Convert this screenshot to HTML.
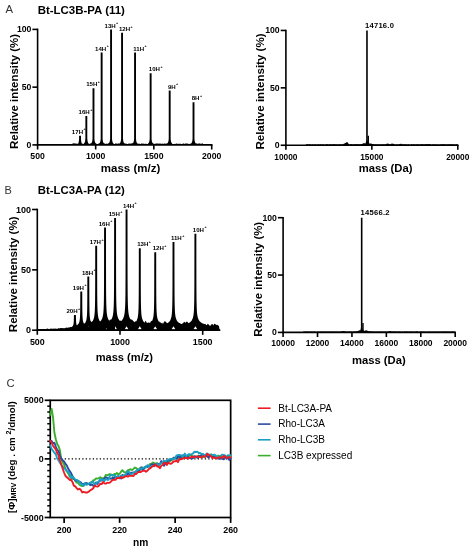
<!DOCTYPE html>
<html><head><meta charset="utf-8"><title>Figure</title>
<style>html,body{margin:0;padding:0;background:#fff}svg{display:block}</style></head>
<body>
<svg width="471" height="550" viewBox="0 0 471 550" font-family='"Liberation Sans", sans-serif' fill="#000">
<rect width="471" height="550" fill="#fff"/>
<text x="5.60" y="12.70" font-size="11.3" font-weight="normal" text-anchor="start" fill="#333">A</text>
<text x="37.70" y="13.60" font-size="11.1" font-weight="bold" text-anchor="start" textLength="87.2" lengthAdjust="spacingAndGlyphs">Bt-LC3B-PA (11)</text>
<line x1="37.60" y1="28.60" x2="37.60" y2="145.70" stroke="#000" stroke-width="1.6" />
<line x1="36.80" y1="144.90" x2="212.50" y2="144.90" stroke="#000" stroke-width="1.6" />
<line x1="32.40" y1="29.40" x2="37.60" y2="29.40" stroke="#000" stroke-width="1.6" />
<text x="31.40" y="32.40" font-size="8.7" font-weight="bold" text-anchor="end" >100</text>
<line x1="32.40" y1="87.15" x2="37.60" y2="87.15" stroke="#000" stroke-width="1.6" />
<text x="31.40" y="90.15" font-size="8.7" font-weight="bold" text-anchor="end" >50</text>
<line x1="32.40" y1="144.90" x2="37.60" y2="144.90" stroke="#000" stroke-width="1.6" />
<text x="31.40" y="147.90" font-size="8.7" font-weight="bold" text-anchor="end" >0</text>
<line x1="37.60" y1="144.90" x2="37.60" y2="149.50" stroke="#000" stroke-width="1.6" />
<text x="37.60" y="159.30" font-size="8.7" font-weight="bold" text-anchor="middle" >500</text>
<line x1="95.67" y1="144.90" x2="95.67" y2="149.50" stroke="#000" stroke-width="1.6" />
<text x="95.67" y="159.30" font-size="8.7" font-weight="bold" text-anchor="middle" >1000</text>
<line x1="153.83" y1="144.90" x2="153.83" y2="149.50" stroke="#000" stroke-width="1.6" />
<text x="153.83" y="159.30" font-size="8.7" font-weight="bold" text-anchor="middle" >1500</text>
<line x1="211.70" y1="144.90" x2="211.70" y2="149.50" stroke="#000" stroke-width="1.6" />
<text x="211.70" y="159.30" font-size="8.7" font-weight="bold" text-anchor="middle" >2000</text>
<text x="130.50" y="171.70" font-size="11.5" font-weight="bold" text-anchor="middle" >mass (m/z)</text>
<text x="0.00" y="0.00" font-size="11.45" font-weight="bold" text-anchor="middle" transform="translate(17.90,91.45) rotate(-90)">Relative intensity (%)</text>
<path d="M188.88,144.90 C191.36,144.30 192.36,142.62 192.56,138.40 L192.56,102.17 L194.46,102.17 L194.46,138.40 C194.66,142.62 195.66,144.30 198.15,144.90 Z" fill="#000"/>
<text x="191.71" y="100.27" font-size="6.1" font-weight="bold" text-anchor="start">8H<tspan font-size="3.66" dy="-3.3" dx="0.4">+</tspan></text>
<path d="M164.69,144.90 C167.54,144.30 168.54,142.62 168.74,138.40 L168.74,90.62 L170.64,90.62 L170.64,138.40 C170.84,142.62 171.84,144.30 174.69,144.90 Z" fill="#000"/>
<text x="167.89" y="88.72" font-size="6.1" font-weight="bold" text-anchor="start">9H<tspan font-size="3.66" dy="-3.3" dx="0.4">+</tspan></text>
<path d="M145.64,144.90 C148.49,144.30 149.49,142.62 149.69,138.40 L149.69,73.29 L151.59,73.29 L151.59,138.40 C151.79,142.62 152.79,144.30 155.64,144.90 Z" fill="#000"/>
<text x="148.84" y="71.39" font-size="6.1" font-weight="bold" text-anchor="start">10H<tspan font-size="3.66" dy="-3.3" dx="0.4">+</tspan></text>
<path d="M130.05,144.90 C132.90,144.30 133.90,142.62 134.10,138.40 L134.10,52.50 L136.00,52.50 L136.00,138.40 C136.20,142.62 137.20,144.30 140.05,144.90 Z" fill="#000"/>
<text x="133.25" y="50.60" font-size="6.1" font-weight="bold" text-anchor="start">11H<tspan font-size="3.66" dy="-3.3" dx="0.4">+</tspan></text>
<path d="M117.06,144.90 C119.91,144.30 120.91,142.62 121.11,138.40 L121.11,32.87 L123.01,32.87 L123.01,138.40 C123.21,142.62 124.21,144.30 127.06,144.90 Z" fill="#000"/>
<text x="118.96" y="30.97" font-size="6.1" font-weight="bold" text-anchor="start">12H<tspan font-size="3.66" dy="-3.3" dx="0.4">+</tspan></text>
<path d="M106.07,144.90 C108.92,144.30 109.92,142.62 110.12,138.40 L110.12,29.40 L112.02,29.40 L112.02,138.40 C112.22,142.62 113.22,144.30 116.07,144.90 Z" fill="#000"/>
<text x="111.37" y="27.50" font-size="6.1" font-weight="bold" text-anchor="middle">13H<tspan font-size="3.66" dy="-3.3" dx="0.4">+</tspan></text>
<path d="M96.64,144.90 C99.49,144.30 100.49,142.62 100.69,138.40 L100.69,52.50 L102.59,52.50 L102.59,138.40 C102.79,142.62 103.79,144.30 106.64,144.90 Z" fill="#000"/>
<text x="101.94" y="50.60" font-size="6.1" font-weight="bold" text-anchor="middle">14H<tspan font-size="3.66" dy="-3.3" dx="0.4">+</tspan></text>
<path d="M88.48,144.90 C91.33,144.30 92.33,142.62 92.53,138.40 L92.53,88.31 L94.43,88.31 L94.43,138.40 C94.63,142.62 95.63,144.30 98.48,144.90 Z" fill="#000"/>
<text x="93.08" y="86.41" font-size="6.1" font-weight="bold" text-anchor="middle">15H<tspan font-size="3.66" dy="-3.3" dx="0.4">+</tspan></text>
<path d="M82.47,144.90 C84.18,144.30 85.18,142.62 85.38,138.40 L85.38,116.03 L87.28,116.03 L87.28,138.40 C87.48,142.62 88.48,144.30 90.19,144.90 Z" fill="#000"/>
<text x="85.43" y="114.12" font-size="6.1" font-weight="bold" text-anchor="middle">16H<tspan font-size="3.66" dy="-3.3" dx="0.4">+</tspan></text>
<path d="M77.61,144.90 C77.88,144.30 78.88,142.96 79.08,139.36 L79.08,135.66 L80.98,135.66 L80.98,139.36 C81.18,142.96 82.18,144.30 82.45,144.90 Z" fill="#000"/>
<text x="78.73" y="133.76" font-size="6.1" font-weight="bold" text-anchor="middle">17H<tspan font-size="3.66" dy="-3.3" dx="0.4">+</tspan></text>
<path d="M73.52,144.90 C72.47,144.30 73.47,144.48 73.67,143.70 L73.67,142.90 L74.47,142.90 L74.47,143.70 C74.67,144.48 75.67,144.30 74.63,144.90 Z" fill="#000"/>
<path d="M72.00,144.90 L72.00,143.90 L72.70,143.52 L73.40,143.56 L74.10,143.68 L74.80,143.86 L75.50,143.45 L76.20,143.44 L76.90,143.65 L77.60,143.66 L78.30,143.85 L79.00,144.02 L79.70,143.75 L80.40,143.60 L81.10,143.97 L81.80,143.45 L82.50,143.85 L83.20,143.85 L83.90,143.99 L84.60,143.30 L85.30,143.49 L86.00,143.39 L86.70,143.58 L87.40,144.00 L88.10,143.78 L88.80,143.66 L89.50,143.94 L90.20,143.33 L90.90,143.75 L91.60,143.91 L92.30,143.43 L93.00,143.93 L93.70,143.35 L94.40,143.69 L95.10,143.62 L95.80,143.77 L96.50,143.67 L97.20,143.89 L97.90,143.99 L98.60,143.40 L99.30,143.85 L100.00,143.46 L100.70,143.87 L101.40,143.32 L102.10,143.38 L102.80,143.48 L103.50,143.47 L104.20,143.60 L104.90,143.49 L105.60,143.93 L106.30,143.68 L107.00,143.42 L107.70,143.88 L108.40,143.36 L109.10,143.38 L109.80,143.73 L110.50,143.76 L111.20,143.70 L111.90,143.74 L112.60,143.30 L113.30,143.74 L114.00,144.00 L114.70,143.95 L115.40,143.50 L116.10,143.31 L116.80,143.66 L117.50,143.67 L118.20,143.62 L118.90,143.48 L119.60,143.86 L120.30,143.58 L121.00,143.62 L121.70,143.57 L122.40,143.89 L123.10,143.90 L123.80,143.77 L124.50,143.35 L125.20,143.77 L125.90,143.59 L126.60,143.80 L127.30,143.95 L128.00,143.97 L128.70,143.43 L129.40,143.46 L130.10,143.75 L130.80,143.53 L131.50,143.53 L132.20,143.37 L132.90,143.33 L133.60,143.73 L134.30,143.31 L135.00,143.33 L135.70,143.59 L136.40,143.38 L137.10,143.67 L137.80,143.75 L138.50,143.84 L139.20,143.39 L139.90,143.90 L140.60,143.97 L141.30,143.44 L142.00,143.46 L142.70,143.67 L143.40,143.42 L144.10,143.98 L144.80,143.83 L145.50,143.81 L146.20,143.72 L146.90,143.90 L147.60,143.97 L148.30,143.78 L149.00,143.37 L149.70,143.31 L150.40,143.48 L151.10,143.68 L151.80,143.84 L152.50,143.33 L153.20,143.64 L153.90,143.50 L154.60,144.00 L155.30,143.87 L156.00,143.42 L156.70,143.45 L157.40,143.39 L158.10,143.59 L158.80,143.71 L159.50,143.60 L160.20,143.41 L160.90,143.80 L161.60,143.64 L162.30,143.82 L163.00,143.47 L163.70,144.01 L164.40,143.53 L165.10,143.33 L165.80,144.00 L166.50,143.59 L167.20,143.56 L167.90,143.41 L168.60,143.60 L169.30,143.83 L170.00,143.73 L170.70,143.33 L171.40,143.37 L172.10,143.92 L172.80,143.95 L173.50,143.95 L174.20,144.00 L174.90,143.70 L175.60,143.92 L176.30,143.40 L177.00,143.55 L177.70,143.93 L178.40,143.63 L179.10,143.79 L179.80,143.66 L180.50,143.86 L181.20,143.90 L181.90,143.89 L182.60,143.75 L183.30,143.51 L184.00,143.62 L184.70,143.99 L185.40,143.51 L186.10,143.39 L186.80,143.46 L187.50,143.45 L188.20,144.01 L188.90,143.69 L189.60,143.97 L190.30,143.47 L191.00,143.89 L191.70,143.51 L192.40,143.84 L193.10,143.52 L193.80,143.79 L194.50,143.99 L195.20,143.74 L195.90,143.80 L196.60,143.37 L197.30,143.81 L198.00,143.66 L198.70,143.62 L199.40,143.34 L200.10,143.95 L200.80,143.59 L201.50,143.65 L202.20,143.49 L202.90,143.32 L203.00,144.90 Z" fill="#000"/>
<line x1="285.90" y1="29.65" x2="285.90" y2="146.05" stroke="#000" stroke-width="1.6" />
<line x1="285.10" y1="145.25" x2="458.60" y2="145.25" stroke="#000" stroke-width="1.6" />
<line x1="280.70" y1="30.45" x2="285.90" y2="30.45" stroke="#000" stroke-width="1.6" />
<text x="279.70" y="33.45" font-size="8.7" font-weight="bold" text-anchor="end" >100</text>
<line x1="280.70" y1="87.85" x2="285.90" y2="87.85" stroke="#000" stroke-width="1.6" />
<text x="279.70" y="90.85" font-size="8.7" font-weight="bold" text-anchor="end" >50</text>
<line x1="280.70" y1="145.25" x2="285.90" y2="145.25" stroke="#000" stroke-width="1.6" />
<text x="279.70" y="148.25" font-size="8.7" font-weight="bold" text-anchor="end" >0</text>
<line x1="285.90" y1="145.25" x2="285.90" y2="149.85" stroke="#000" stroke-width="1.6" />
<text x="285.90" y="160.05" font-size="8.35" font-weight="bold" text-anchor="middle" >10000</text>
<line x1="371.85" y1="145.25" x2="371.85" y2="149.85" stroke="#000" stroke-width="1.6" />
<text x="371.85" y="160.05" font-size="8.35" font-weight="bold" text-anchor="middle" >15000</text>
<line x1="457.80" y1="145.25" x2="457.80" y2="149.85" stroke="#000" stroke-width="1.6" />
<text x="457.80" y="160.05" font-size="8.35" font-weight="bold" text-anchor="middle" >20000</text>
<text x="385.60" y="171.95" font-size="11.25" font-weight="bold" text-anchor="middle" >mass (Da)</text>
<text x="0.00" y="0.00" font-size="11.55" font-weight="bold" text-anchor="middle" transform="translate(264.10,91.55) rotate(-90)">Relative intensity (%)</text>
<path d="M363.97,145.25 C364.97,144.65 365.97,143.50 366.17,140.25 L366.17,30.45 L367.77,30.45 L367.77,140.25 C367.97,143.50 368.97,144.65 369.97,145.25 Z" fill="#000"/>
<path d="M367.09,145.25 C366.37,144.65 367.37,144.20 367.57,142.25 L367.57,135.75 L368.97,135.75 L368.97,142.25 C369.17,144.20 370.17,144.65 369.45,145.25 Z" fill="#000"/>
<path d="M305.90,145.25 L305.90,144.30 L306.60,144.23 L307.30,144.11 L308.00,144.39 L308.70,144.28 L309.40,144.35 L310.10,144.12 L310.80,144.43 L311.50,144.42 L312.20,144.39 L312.90,144.11 L313.60,144.42 L314.30,144.43 L315.00,144.25 L315.70,144.19 L316.40,144.45 L317.10,144.40 L317.80,144.13 L318.50,144.25 L319.20,144.41 L319.90,144.29 L320.60,144.19 L321.30,144.31 L322.00,144.43 L322.70,144.30 L323.40,144.21 L324.10,144.39 L324.80,144.39 L325.50,144.41 L326.20,144.30 L326.90,144.11 L327.60,144.35 L328.30,144.41 L329.00,144.21 L329.70,144.36 L330.40,144.13 L331.10,144.32 L331.80,144.20 L332.50,144.27 L333.20,144.26 L333.90,144.34 L334.60,144.12 L335.30,144.23 L336.00,144.39 L336.70,144.24 L337.40,144.21 L338.10,144.41 L338.80,144.13 L339.50,144.33 L340.20,144.27 L340.90,144.23 L341.60,144.13 L342.30,144.34 L343.00,144.20 L343.70,143.87 L344.40,143.49 L345.10,143.22 L345.80,142.83 L346.50,142.36 L347.20,142.04 L347.90,143.02 L348.60,143.76 L349.30,144.38 L350.00,144.21 L350.70,144.11 L351.40,144.32 L352.10,144.10 L352.80,144.40 L353.50,144.27 L354.20,144.35 L354.90,144.19 L355.60,144.11 L356.30,144.24 L357.00,144.30 L357.70,144.10 L358.40,144.33 L359.10,144.37 L359.80,144.22 L360.50,144.29 L361.20,144.01 L361.90,143.89 L362.60,143.76 L363.30,143.21 L364.00,143.26 L364.70,143.28 L365.40,143.52 L366.10,144.09 L366.80,143.96 L367.50,144.07 L368.20,144.29 L368.90,143.98 L369.60,143.62 L370.30,143.43 L371.00,143.48 L371.70,143.69 L372.40,143.97 L373.10,144.07 L373.80,144.23 L374.50,144.22 L375.20,144.26 L375.90,144.32 L376.60,144.15 L377.30,144.46 L378.00,144.29 L378.70,144.13 L379.40,144.35 L380.10,144.42 L380.80,144.20 L381.50,144.24 L382.20,144.37 L382.90,144.16 L383.60,144.16 L384.30,144.13 L385.00,144.30 L385.70,144.36 L386.40,143.76 L387.10,143.64 L387.80,143.51 L388.50,143.83 L389.20,144.10 L389.90,144.23 L390.60,144.15 L391.30,143.83 L392.00,143.56 L392.70,143.68 L393.40,143.87 L394.10,144.16 L394.80,144.18 L395.50,144.41 L396.20,144.35 L396.90,144.31 L397.60,144.42 L398.30,144.14 L399.00,144.34 L399.70,144.05 L400.40,144.08 L401.10,143.55 L401.80,144.14 L402.50,144.28 L403.20,144.36 L403.90,144.24 L404.60,144.36 L405.30,144.32 L406.00,144.18 L406.70,144.18 L407.40,144.38 L408.10,144.25 L408.80,144.37 L409.50,144.41 L410.20,144.43 L410.90,144.44 L411.60,144.10 L412.30,144.32 L413.00,144.38 L413.70,144.11 L414.40,144.15 L415.10,144.38 L415.80,144.35 L416.50,144.21 L417.20,144.20 L417.90,144.13 L418.60,144.27 L419.30,144.35 L420.00,144.41 L420.70,144.35 L421.40,144.11 L422.10,144.15 L422.80,144.34 L423.50,144.37 L424.20,144.21 L424.90,144.25 L425.60,144.37 L426.30,144.12 L427.00,144.14 L427.70,144.11 L428.40,144.32 L429.10,144.11 L429.80,144.11 L430.50,144.19 L431.20,144.44 L431.90,144.40 L432.60,144.20 L433.30,144.26 L434.00,144.22 L434.70,144.21 L435.40,144.42 L436.10,144.26 L436.80,144.24 L437.50,144.40 L438.20,144.26 L438.90,144.44 L439.60,144.39 L440.30,144.22 L441.00,144.20 L441.70,144.35 L442.40,144.17 L443.10,144.12 L443.80,144.32 L444.50,144.13 L445.20,144.22 L445.90,144.31 L446.60,144.42 L447.30,144.36 L448.00,144.23 L448.70,144.28 L449.40,144.32 L450.10,144.25 L450.80,144.19 L451.50,144.16 L452.20,144.15 L452.90,144.36 L453.60,144.15 L454.30,144.45 L455.00,144.24 L455.70,144.39 L456.40,144.24 L457.10,144.12 L457.80,144.35 L457.80,145.25 Z" fill="#000"/>
<text x="365.00" y="28.40" font-size="7.6" font-weight="bold" text-anchor="start" textLength="28.9" lengthAdjust="spacing">14716.0</text>
<text x="4.50" y="193.80" font-size="11.0" font-weight="normal" text-anchor="start" fill="#333">B</text>
<text x="37.70" y="193.70" font-size="11.1" font-weight="bold" text-anchor="start" textLength="87.2" lengthAdjust="spacingAndGlyphs">Bt-LC3A-PA (12)</text>
<line x1="37.30" y1="208.70" x2="37.30" y2="331.00" stroke="#000" stroke-width="1.6" />
<line x1="36.50" y1="330.20" x2="220.20" y2="330.20" stroke="#000" stroke-width="1.6" />
<line x1="32.10" y1="209.50" x2="37.30" y2="209.50" stroke="#000" stroke-width="1.6" />
<text x="31.10" y="212.50" font-size="9.0" font-weight="bold" text-anchor="end" >100</text>
<line x1="32.10" y1="269.85" x2="37.30" y2="269.85" stroke="#000" stroke-width="1.6" />
<text x="31.10" y="272.85" font-size="9.0" font-weight="bold" text-anchor="end" >50</text>
<line x1="32.10" y1="330.20" x2="37.30" y2="330.20" stroke="#000" stroke-width="1.6" />
<text x="31.10" y="333.20" font-size="9.0" font-weight="bold" text-anchor="end" >0</text>
<line x1="37.30" y1="330.20" x2="37.30" y2="334.80" stroke="#000" stroke-width="1.6" />
<text x="37.30" y="345.10" font-size="8.9" font-weight="bold" text-anchor="middle" >500</text>
<line x1="120.00" y1="330.20" x2="120.00" y2="334.80" stroke="#000" stroke-width="1.6" />
<text x="120.00" y="345.10" font-size="8.9" font-weight="bold" text-anchor="middle" >1000</text>
<line x1="202.70" y1="330.20" x2="202.70" y2="334.80" stroke="#000" stroke-width="1.6" />
<text x="202.70" y="345.10" font-size="8.9" font-weight="bold" text-anchor="middle" >1500</text>
<text x="124.30" y="360.70" font-size="11.1" font-weight="bold" text-anchor="middle" >mass (m/z)</text>
<text x="0.00" y="0.00" font-size="11.5" font-weight="bold" text-anchor="middle" transform="translate(17.40,274.35) rotate(-90)">Relative intensity (%)</text>
<path d="M37.30,330.20 L37.30,329.09 L38.10,329.16 L38.90,328.91 L39.70,329.16 L40.50,328.93 L41.30,328.99 L42.10,329.12 L42.90,328.89 L43.70,329.10 L44.50,328.89 L45.30,329.06 L46.10,329.03 L46.90,328.85 L47.70,328.62 L48.50,328.97 L49.30,328.90 L50.10,328.67 L50.90,328.47 L51.70,328.66 L52.50,328.74 L53.30,328.39 L54.10,328.90 L54.90,328.35 L55.70,328.64 L56.50,328.68 L57.30,328.65 L58.10,328.46 L58.90,328.04 L59.70,328.45 L60.50,328.09 L61.30,327.98 L62.10,328.13 L62.90,327.93 L63.70,328.28 L64.50,328.23 L65.30,328.05 L66.10,327.56 L66.90,327.73 L67.70,327.76 L68.50,327.41 L69.30,327.46 L70.10,327.53 L70.90,326.90 L71.70,326.92 L72.50,327.36 L73.30,326.88 L74.10,326.85 L74.90,326.31 L75.70,326.33 L76.50,326.70 L77.30,325.44 L78.10,326.53 L78.90,325.82 L79.70,324.99 L80.50,325.86 L81.30,324.99 L82.10,325.68 L82.90,324.14 L83.70,323.67 L84.50,323.87 L85.30,322.93 L86.10,324.06 L86.90,322.88 L87.70,322.91 L88.50,322.72 L89.30,322.84 L90.10,321.52 L90.90,320.96 L91.70,322.14 L92.50,321.33 L93.30,323.03 L94.10,320.74 L94.90,320.68 L95.70,319.42 L96.50,319.99 L97.30,321.81 L98.10,321.45 L98.90,320.47 L99.70,322.67 L100.50,321.16 L101.30,322.16 L102.10,322.32 L102.90,322.51 L103.70,320.06 L104.50,322.25 L105.30,321.83 L106.10,321.33 L106.90,319.65 L107.70,322.38 L108.50,321.09 L109.30,320.73 L110.10,319.56 L110.90,319.77 L111.70,319.60 L112.50,321.63 L113.30,321.15 L114.10,321.33 L114.90,319.48 L115.70,319.21 L116.50,322.03 L117.30,321.93 L118.10,321.73 L118.90,321.71 L119.70,320.82 L120.50,320.44 L121.30,321.58 L122.10,322.48 L122.90,321.01 L123.70,321.17 L124.50,320.46 L125.30,319.08 L126.10,320.00 L126.90,320.61 L127.70,320.23 L128.50,320.03 L129.30,322.30 L130.10,319.37 L130.90,319.85 L131.70,319.58 L132.50,319.91 L133.30,321.37 L134.10,321.40 L134.90,322.45 L135.70,320.71 L136.50,322.69 L137.30,322.72 L138.10,322.30 L138.90,322.50 L139.70,321.96 L140.50,322.95 L141.30,323.17 L142.10,322.73 L142.90,322.94 L143.70,322.15 L144.50,323.27 L145.30,320.66 L146.10,321.53 L146.90,323.03 L147.70,322.76 L148.50,322.52 L149.30,322.52 L150.10,323.30 L150.90,321.18 L151.70,320.82 L152.50,322.43 L153.30,322.42 L154.10,323.60 L154.90,323.56 L155.70,322.87 L156.50,323.11 L157.30,321.49 L158.10,323.44 L158.90,323.85 L159.70,321.18 L160.50,322.42 L161.30,323.53 L162.10,322.40 L162.90,323.89 L163.70,322.47 L164.50,321.20 L165.30,321.54 L166.10,322.03 L166.90,323.28 L167.70,322.99 L168.50,323.57 L169.30,321.87 L170.10,322.56 L170.90,321.88 L171.70,323.16 L172.50,323.47 L173.30,321.84 L174.10,321.37 L174.90,321.75 L175.70,321.90 L176.50,321.88 L177.30,322.11 L178.10,323.54 L178.90,322.75 L179.70,323.21 L180.50,324.12 L181.30,324.14 L182.10,323.46 L182.90,323.53 L183.70,322.35 L184.50,321.65 L185.30,323.05 L186.10,321.73 L186.90,321.70 L187.70,321.89 L188.50,323.55 L189.30,324.01 L190.10,324.08 L190.90,324.24 L191.70,324.31 L192.50,323.36 L193.30,322.80 L194.10,323.05 L194.90,324.00 L195.70,323.69 L196.50,323.46 L197.30,325.16 L198.10,323.97 L198.90,323.50 L199.70,323.86 L200.50,324.01 L201.30,324.66 L202.10,325.35 L202.90,324.15 L203.70,325.08 L204.50,324.13 L205.30,323.78 L206.10,324.95 L206.90,324.94 L207.70,323.83 L208.50,324.28 L209.30,325.41 L210.10,325.50 L210.90,325.45 L211.70,323.91 L212.50,324.11 L213.30,325.46 L214.10,324.07 L214.90,323.76 L215.70,324.42 L216.50,325.05 L217.30,324.64 L218.10,325.49 L218.90,325.73 L219.70,330.20 Z" fill="#000"/>
<path d="M185.44,330.20 L185.44,329.20 L185.44,328.20 L185.44,327.20 L185.44,326.20 L185.44,325.20 L185.90,324.20 L188.49,323.20 L190.10,322.20 L191.15,321.20 L191.87,320.20 L192.76,318.20 L193.27,316.20 L193.59,314.20 L193.79,312.20 L193.99,309.20 L194.14,305.20 L194.25,300.20 L194.31,294.20 L194.36,286.20 L194.39,276.20 L194.41,264.20 L194.42,250.20 L194.44,233.64 L196.34,233.64 L196.36,250.20 L196.37,264.20 L196.39,276.20 L196.42,286.20 L196.47,294.20 L196.53,300.20 L196.64,305.20 L196.79,309.20 L196.99,312.20 L197.19,314.20 L197.51,316.20 L198.02,318.20 L198.91,320.20 L199.63,321.20 L200.68,322.20 L202.29,323.20 L204.88,324.20 L205.34,325.20 L205.34,326.20 L205.34,327.20 L205.34,328.20 L205.34,329.20 L205.34,330.20 Z" fill="#000"/>
<text x="192.79" y="231.74" font-size="6.1" font-weight="bold" text-anchor="start">10H<tspan font-size="3.66" dy="-3.3" dx="0.4">+</tspan></text>
<path d="M193.49,329.30 L195.39,326.20 L197.29,329.30 Z" fill="#fff"/>
<path d="M163.54,330.20 L163.54,329.20 L163.54,328.20 L163.54,327.20 L163.54,326.20 L163.54,325.20 L165.09,324.20 L167.36,323.20 L168.75,322.20 L169.67,321.20 L170.30,320.20 L171.08,318.20 L171.52,316.20 L171.80,314.20 L171.97,312.20 L172.15,309.20 L172.28,305.20 L172.37,300.20 L172.43,294.20 L172.47,286.20 L172.50,276.20 L172.51,264.20 L172.52,250.20 L172.54,242.09 L174.44,242.09 L174.45,250.20 L174.46,264.20 L174.48,276.20 L174.51,286.20 L174.55,294.20 L174.61,300.20 L174.70,305.20 L174.83,309.20 L175.00,312.20 L175.18,314.20 L175.45,316.20 L175.90,318.20 L176.68,320.20 L177.31,321.20 L178.23,322.20 L179.62,323.20 L181.88,324.20 L183.44,325.20 L183.44,326.20 L183.44,327.20 L183.44,328.20 L183.44,329.20 L183.44,330.20 Z" fill="#000"/>
<text x="170.89" y="240.19" font-size="6.1" font-weight="bold" text-anchor="start">11H<tspan font-size="3.66" dy="-3.3" dx="0.4">+</tspan></text>
<path d="M171.59,329.30 L173.49,326.20 L175.39,329.30 Z" fill="#fff"/>
<path d="M145.29,330.20 L145.29,329.20 L145.29,328.20 L145.29,327.20 L145.29,326.20 L145.29,325.20 L148.09,324.20 L149.97,323.20 L151.13,322.20 L151.90,321.20 L152.42,320.20 L153.07,318.20 L153.44,316.20 L153.67,314.20 L153.82,312.20 L153.96,309.20 L154.07,305.20 L154.15,300.20 L154.19,294.20 L154.23,286.20 L154.25,276.20 L154.26,264.20 L154.29,252.23 L156.19,252.23 L156.21,264.20 L156.22,276.20 L156.24,286.20 L156.28,294.20 L156.33,300.20 L156.40,305.20 L156.51,309.20 L156.66,312.20 L156.80,314.20 L157.03,316.20 L157.40,318.20 L158.05,320.20 L158.58,321.20 L159.34,322.20 L160.50,323.20 L162.38,324.20 L165.19,325.20 L165.19,326.20 L165.19,327.20 L165.19,328.20 L165.19,329.20 L165.19,330.20 Z" fill="#000"/>
<text x="152.64" y="250.33" font-size="6.1" font-weight="bold" text-anchor="start">12H<tspan font-size="3.66" dy="-3.3" dx="0.4">+</tspan></text>
<path d="M153.34,329.30 L155.24,326.20 L157.14,329.30 Z" fill="#fff"/>
<path d="M129.84,330.20 L129.84,329.20 L129.84,328.20 L129.84,327.20 L129.84,326.20 L129.84,325.20 L132.18,324.20 L134.20,323.20 L135.45,322.20 L136.27,321.20 L136.84,320.20 L137.54,318.20 L137.93,316.20 L138.18,314.20 L138.34,312.20 L138.49,309.20 L138.61,305.20 L138.69,300.20 L138.74,294.20 L138.78,286.20 L138.80,276.20 L138.82,264.20 L138.83,250.20 L138.84,248.37 L140.74,248.37 L140.76,250.20 L140.77,264.20 L140.78,276.20 L140.80,286.20 L140.84,294.20 L140.89,300.20 L140.98,305.20 L141.09,309.20 L141.25,312.20 L141.41,314.20 L141.65,316.20 L142.05,318.20 L142.75,320.20 L143.31,321.20 L144.13,322.20 L145.38,323.20 L147.41,324.20 L149.74,325.20 L149.74,326.20 L149.74,327.20 L149.74,328.20 L149.74,329.20 L149.74,330.20 Z" fill="#000"/>
<text x="137.19" y="246.47" font-size="6.1" font-weight="bold" text-anchor="start">13H<tspan font-size="3.66" dy="-3.3" dx="0.4">+</tspan></text>
<path d="M137.89,329.30 L139.79,326.20 L141.69,329.30 Z" fill="#fff"/>
<path d="M116.60,330.20 L116.60,329.20 L116.60,328.20 L116.60,327.20 L116.60,326.20 L116.60,325.20 L116.60,324.20 L117.29,323.20 L119.53,322.20 L121.00,321.20 L122.01,320.20 L123.26,318.20 L123.97,316.20 L124.41,314.20 L124.70,312.20 L124.98,309.20 L125.19,305.20 L125.33,300.20 L125.43,294.20 L125.49,286.20 L125.54,276.20 L125.56,264.20 L125.58,250.20 L125.59,230.20 L125.60,209.50 L127.50,209.50 L127.52,230.20 L127.53,250.20 L127.55,264.20 L127.57,276.20 L127.62,286.20 L127.68,294.20 L127.78,300.20 L127.92,305.20 L128.13,309.20 L128.41,312.20 L128.70,314.20 L129.13,316.20 L129.85,318.20 L131.10,320.20 L132.11,321.20 L133.58,322.20 L135.81,323.20 L136.50,324.20 L136.50,325.20 L136.50,326.20 L136.50,327.20 L136.50,328.20 L136.50,329.20 L136.50,330.20 Z" fill="#000"/>
<text x="122.95" y="207.60" font-size="6.1" font-weight="bold" text-anchor="start">14H<tspan font-size="3.66" dy="-3.3" dx="0.4">+</tspan></text>
<path d="M124.65,329.30 L126.55,326.20 L128.45,329.30 Z" fill="#fff"/>
<path d="M105.13,330.20 L105.13,329.20 L105.13,328.20 L105.13,327.20 L105.13,326.20 L105.13,325.20 L105.13,324.20 L106.68,323.20 L108.69,322.20 L110.00,321.20 L110.91,320.20 L112.03,318.20 L112.67,316.20 L113.06,314.20 L113.32,312.20 L113.57,309.20 L113.76,305.20 L113.89,300.20 L113.97,294.20 L114.03,286.20 L114.07,276.20 L114.09,264.20 L114.11,250.20 L114.12,230.20 L114.13,217.95 L116.03,217.95 L116.05,230.20 L116.06,250.20 L116.07,264.20 L116.09,276.20 L116.13,286.20 L116.19,294.20 L116.28,300.20 L116.41,305.20 L116.60,309.20 L116.84,312.20 L117.10,314.20 L117.49,316.20 L118.13,318.20 L119.26,320.20 L120.16,321.20 L121.48,322.20 L123.48,323.20 L125.03,324.20 L125.03,325.20 L125.03,326.20 L125.03,327.20 L125.03,328.20 L125.03,329.20 L125.03,330.20 Z" fill="#000"/>
<text x="115.58" y="216.05" font-size="6.1" font-weight="bold" text-anchor="middle">15H<tspan font-size="3.66" dy="-3.3" dx="0.4">+</tspan></text>
<path d="M113.18,329.30 L115.08,326.20 L116.98,329.30 Z" fill="#fff"/>
<path d="M95.09,330.20 L95.09,329.20 L95.09,328.20 L95.09,327.20 L95.09,326.20 L95.09,325.20 L95.09,324.20 L97.58,323.20 L99.34,322.20 L100.49,321.20 L101.28,320.20 L102.26,318.20 L102.82,316.20 L103.16,314.20 L103.39,312.20 L103.60,309.20 L103.77,305.20 L103.88,300.20 L103.95,294.20 L104.01,286.20 L104.04,276.20 L104.06,264.20 L104.07,250.20 L104.08,230.20 L104.09,227.61 L105.99,227.61 L106.01,230.20 L106.01,250.20 L106.03,264.20 L106.05,276.20 L106.08,286.20 L106.13,294.20 L106.21,300.20 L106.32,305.20 L106.49,309.20 L106.70,312.20 L106.93,314.20 L107.27,316.20 L107.83,318.20 L108.81,320.20 L109.60,321.20 L110.75,322.20 L112.51,323.20 L114.99,324.20 L114.99,325.20 L114.99,326.20 L114.99,327.20 L114.99,328.20 L114.99,329.20 L114.99,330.20 Z" fill="#000"/>
<text x="105.54" y="225.71" font-size="6.1" font-weight="bold" text-anchor="middle">16H<tspan font-size="3.66" dy="-3.3" dx="0.4">+</tspan></text>
<path d="M103.14,329.30 L105.04,326.20 L106.94,329.30 Z" fill="#fff"/>
<path d="M86.24,330.20 L86.24,329.20 L86.24,328.20 L86.24,327.20 L86.24,326.20 L86.24,325.20 L88.24,324.20 L90.37,323.20 L91.68,322.20 L92.54,321.20 L93.13,320.20 L93.86,318.20 L94.28,316.20 L94.54,314.20 L94.71,312.20 L94.87,309.20 L94.99,305.20 L95.08,300.20 L95.13,294.20 L95.17,286.20 L95.20,276.20 L95.21,264.20 L95.22,250.20 L95.24,245.71 L97.14,245.71 L97.15,250.20 L97.16,264.20 L97.18,276.20 L97.20,286.20 L97.24,294.20 L97.30,300.20 L97.38,305.20 L97.50,309.20 L97.66,312.20 L97.83,314.20 L98.09,316.20 L98.51,318.20 L99.24,320.20 L99.83,321.20 L100.69,322.20 L102.00,323.20 L104.13,324.20 L106.14,325.20 L106.14,326.20 L106.14,327.20 L106.14,328.20 L106.14,329.20 L106.14,330.20 Z" fill="#000"/>
<text x="96.69" y="243.81" font-size="6.1" font-weight="bold" text-anchor="middle">17H<tspan font-size="3.66" dy="-3.3" dx="0.4">+</tspan></text>
<path d="M94.29,329.30 L96.19,326.20 L98.09,329.30 Z" fill="#fff"/>
<path d="M78.36,330.20 L78.36,329.20 L78.36,328.20 L78.36,327.20 L78.36,326.20 L81.92,325.20 L83.82,324.20 L84.90,323.20 L85.56,322.20 L86.00,321.20 L86.30,320.20 L86.67,318.20 L86.88,316.20 L87.01,314.20 L87.09,312.20 L87.18,309.20 L87.24,305.20 L87.28,300.20 L87.31,294.20 L87.33,286.20 L87.36,276.49 L89.26,276.49 L89.30,286.20 L89.32,294.20 L89.34,300.20 L89.39,305.20 L89.45,309.20 L89.53,312.20 L89.62,314.20 L89.75,316.20 L89.96,318.20 L90.33,320.20 L90.63,321.20 L91.06,322.20 L91.73,323.20 L92.81,324.20 L94.70,325.20 L98.26,326.20 L98.26,327.20 L98.26,328.20 L98.26,329.20 L98.26,330.20 Z" fill="#000"/>
<text x="88.81" y="274.59" font-size="6.1" font-weight="bold" text-anchor="middle">18H<tspan font-size="3.66" dy="-3.3" dx="0.4">+</tspan></text>
<path d="M86.41,329.30 L88.31,326.20 L90.21,329.30 Z" fill="#fff"/>
<path d="M71.32,330.20 L71.32,329.20 L71.32,328.20 L71.32,327.20 L74.71,326.20 L77.00,325.20 L78.16,324.20 L78.81,323.20 L79.22,322.20 L79.48,321.20 L79.67,320.20 L79.89,318.20 L80.02,316.20 L80.10,314.20 L80.15,312.20 L80.20,309.20 L80.24,305.20 L80.27,300.20 L80.29,294.20 L80.32,291.58 L82.22,291.58 L82.25,294.20 L82.27,300.20 L82.29,305.20 L82.33,309.20 L82.38,312.20 L82.43,314.20 L82.51,316.20 L82.64,318.20 L82.87,320.20 L83.05,321.20 L83.32,322.20 L83.72,323.20 L84.38,324.20 L85.53,325.20 L87.82,326.20 L91.22,327.20 L91.22,328.20 L91.22,329.20 L91.22,330.20 Z" fill="#000"/>
<text x="79.67" y="289.68" font-size="6.1" font-weight="bold" text-anchor="middle">19H<tspan font-size="3.66" dy="-3.3" dx="0.4">+</tspan></text>
<path d="M64.98,330.20 L64.98,329.20 L67.00,328.20 L71.29,327.20 L72.61,326.20 L73.17,325.20 L73.45,324.20 L73.61,323.20 L73.71,322.20 L73.77,321.20 L73.82,320.20 L73.87,318.20 L73.91,316.20 L73.98,315.11 L75.88,315.11 L75.95,316.20 L75.98,318.20 L76.04,320.20 L76.08,321.20 L76.15,322.20 L76.25,323.20 L76.41,324.20 L76.69,325.20 L77.25,326.20 L78.57,327.20 L82.85,328.20 L84.88,329.20 L84.88,330.20 Z" fill="#000"/>
<text x="73.33" y="313.21" font-size="6.1" font-weight="bold" text-anchor="middle">20H<tspan font-size="3.66" dy="-3.3" dx="0.4">+</tspan></text>
<line x1="36.50" y1="330.20" x2="220.20" y2="330.20" stroke="#000" stroke-width="1.6" />
<line x1="283.10" y1="216.90" x2="283.10" y2="333.20" stroke="#000" stroke-width="1.6" />
<line x1="282.30" y1="332.40" x2="456.00" y2="332.40" stroke="#000" stroke-width="1.6" />
<line x1="277.90" y1="217.70" x2="283.10" y2="217.70" stroke="#000" stroke-width="1.6" />
<text x="276.90" y="220.70" font-size="8.7" font-weight="bold" text-anchor="end" >100</text>
<line x1="277.90" y1="275.05" x2="283.10" y2="275.05" stroke="#000" stroke-width="1.6" />
<text x="276.90" y="278.05" font-size="8.7" font-weight="bold" text-anchor="end" >50</text>
<line x1="277.90" y1="332.40" x2="283.10" y2="332.40" stroke="#000" stroke-width="1.6" />
<text x="276.90" y="335.40" font-size="8.7" font-weight="bold" text-anchor="end" >0</text>
<line x1="283.10" y1="332.40" x2="283.10" y2="337.00" stroke="#000" stroke-width="1.6" />
<text x="283.10" y="346.40" font-size="8.5" font-weight="bold" text-anchor="middle" >10000</text>
<line x1="317.52" y1="332.40" x2="317.52" y2="337.00" stroke="#000" stroke-width="1.6" />
<text x="317.52" y="346.40" font-size="8.5" font-weight="bold" text-anchor="middle" >12000</text>
<line x1="351.94" y1="332.40" x2="351.94" y2="337.00" stroke="#000" stroke-width="1.6" />
<text x="351.94" y="346.40" font-size="8.5" font-weight="bold" text-anchor="middle" >14000</text>
<line x1="386.36" y1="332.40" x2="386.36" y2="337.00" stroke="#000" stroke-width="1.6" />
<text x="386.36" y="346.40" font-size="8.5" font-weight="bold" text-anchor="middle" >16000</text>
<line x1="420.78" y1="332.40" x2="420.78" y2="337.00" stroke="#000" stroke-width="1.6" />
<text x="420.78" y="346.40" font-size="8.5" font-weight="bold" text-anchor="middle" >18000</text>
<line x1="455.20" y1="332.40" x2="455.20" y2="337.00" stroke="#000" stroke-width="1.6" />
<text x="455.20" y="346.40" font-size="8.5" font-weight="bold" text-anchor="middle" >20000</text>
<text x="378.80" y="364.30" font-size="11.25" font-weight="bold" text-anchor="middle" >mass (Da)</text>
<text x="0.00" y="0.00" font-size="11.45" font-weight="bold" text-anchor="middle" transform="translate(261.90,279.35) rotate(-90)">Relative intensity (%)</text>
<path d="M358.68,332.40 C359.68,331.80 360.68,330.65 360.88,327.40 L360.88,217.70 L362.48,217.70 L362.48,327.40 C362.68,330.65 363.68,331.80 364.68,332.40 Z" fill="#000"/>
<path d="M361.80,332.40 C361.08,331.80 362.08,331.35 362.28,329.40 L362.28,322.90 L363.68,322.90 L363.68,329.40 C363.88,331.35 364.88,331.80 364.16,332.40 Z" fill="#000"/>
<path d="M303.10,332.40 L303.10,331.50 L303.80,331.53 L304.50,331.47 L305.20,331.38 L305.90,331.54 L306.60,331.37 L307.30,331.60 L308.00,331.58 L308.70,331.52 L309.40,331.62 L310.10,331.53 L310.80,331.56 L311.50,331.62 L312.20,331.51 L312.90,331.58 L313.60,331.45 L314.30,331.50 L315.00,331.37 L315.70,331.63 L316.40,331.63 L317.10,331.49 L317.80,331.45 L318.50,331.56 L319.20,331.39 L319.90,331.43 L320.60,331.44 L321.30,331.51 L322.00,331.36 L322.70,331.41 L323.40,331.47 L324.10,331.38 L324.80,331.60 L325.50,331.48 L326.20,331.52 L326.90,331.59 L327.60,331.45 L328.30,331.51 L329.00,331.54 L329.70,331.57 L330.40,331.43 L331.10,331.56 L331.80,331.48 L332.50,331.36 L333.20,331.54 L333.90,331.57 L334.60,331.55 L335.30,331.38 L336.00,331.46 L336.70,331.52 L337.40,331.58 L338.10,331.62 L338.80,331.42 L339.50,331.57 L340.20,331.57 L340.90,331.53 L341.60,331.25 L342.30,331.05 L343.00,331.13 L343.70,330.97 L344.40,331.25 L345.10,331.34 L345.80,331.60 L346.50,331.46 L347.20,331.62 L347.90,331.42 L348.60,331.61 L349.30,331.37 L350.00,331.44 L350.70,331.40 L351.40,331.35 L352.10,331.53 L352.80,331.48 L353.50,331.60 L354.20,331.46 L354.90,331.35 L355.60,331.50 L356.30,331.29 L357.00,331.26 L357.70,331.06 L358.40,330.81 L359.10,330.42 L359.80,330.35 L360.50,330.56 L361.20,330.94 L361.90,331.26 L362.60,331.11 L363.30,331.21 L364.00,331.12 L364.70,330.72 L365.40,330.46 L366.10,330.36 L366.80,330.48 L367.50,330.66 L368.20,331.04 L368.90,331.34 L369.60,331.25 L370.30,331.32 L371.00,331.33 L371.70,331.48 L372.40,331.53 L373.10,331.36 L373.80,331.48 L374.50,331.57 L375.20,331.43 L375.90,331.42 L376.60,331.53 L377.30,331.47 L378.00,331.55 L378.70,331.54 L379.40,331.60 L380.10,331.40 L380.80,331.37 L381.50,331.45 L382.20,331.60 L382.90,331.44 L383.60,331.39 L384.30,331.50 L385.00,331.46 L385.70,331.51 L386.40,331.45 L387.10,331.54 L387.80,331.48 L388.50,331.35 L389.20,331.14 L389.90,331.06 L390.60,331.06 L391.30,331.45 L392.00,331.35 L392.70,331.42 L393.40,331.37 L394.10,331.55 L394.80,331.36 L395.50,331.56 L396.20,331.46 L396.90,331.52 L397.60,331.55 L398.30,331.50 L399.00,331.37 L399.70,331.44 L400.40,331.59 L401.10,331.54 L401.80,331.54 L402.50,331.59 L403.20,331.63 L403.90,331.60 L404.60,331.37 L405.30,331.57 L406.00,331.59 L406.70,331.36 L407.40,331.53 L408.10,331.51 L408.80,331.61 L409.50,331.43 L410.20,331.61 L410.90,331.35 L411.60,331.47 L412.30,331.48 L413.00,331.41 L413.70,331.48 L414.40,331.46 L415.10,331.57 L415.80,331.44 L416.50,331.37 L417.20,331.36 L417.90,331.50 L418.60,331.63 L419.30,331.48 L420.00,331.38 L420.70,331.50 L421.40,331.36 L422.10,331.47 L422.80,331.57 L423.50,331.42 L424.20,331.51 L424.90,331.40 L425.60,331.56 L426.30,331.63 L427.00,331.61 L427.70,331.54 L428.40,331.51 L429.10,331.42 L429.80,331.46 L430.50,331.41 L431.20,331.39 L431.90,331.42 L432.60,331.40 L433.30,331.59 L434.00,331.41 L434.70,331.47 L435.40,331.45 L436.10,331.58 L436.80,331.56 L437.50,331.59 L438.20,331.57 L438.90,331.49 L439.60,331.53 L440.30,331.54 L441.00,331.51 L441.70,331.38 L442.40,331.58 L443.10,331.59 L443.80,331.36 L444.50,331.57 L445.20,331.61 L445.90,331.36 L446.60,331.55 L447.30,331.46 L448.00,331.51 L448.70,331.51 L449.40,331.47 L450.10,331.52 L450.80,331.60 L451.50,331.62 L452.20,331.49 L452.90,331.37 L453.60,331.44 L454.30,331.51 L455.00,331.54 L455.20,332.40 Z" fill="#000"/>
<text x="360.60" y="215.40" font-size="7.6" font-weight="bold" text-anchor="start" textLength="28.9" lengthAdjust="spacing">14566.2</text>
<text x="6.40" y="386.80" font-size="11.3" font-weight="normal" text-anchor="start" fill="#333">C</text>
<rect x="50.25" y="400.3" width="180.40" height="117.20" fill="none" stroke="#000" stroke-width="1.7"/>
<line x1="47.25" y1="511.64" x2="50.25" y2="511.64" stroke="#000" stroke-width="1.5" />
<line x1="47.25" y1="505.78" x2="50.25" y2="505.78" stroke="#000" stroke-width="1.5" />
<line x1="47.25" y1="499.92" x2="50.25" y2="499.92" stroke="#000" stroke-width="1.5" />
<line x1="47.25" y1="494.06" x2="50.25" y2="494.06" stroke="#000" stroke-width="1.5" />
<line x1="47.25" y1="488.20" x2="50.25" y2="488.20" stroke="#000" stroke-width="1.5" />
<line x1="47.25" y1="482.34" x2="50.25" y2="482.34" stroke="#000" stroke-width="1.5" />
<line x1="47.25" y1="476.48" x2="50.25" y2="476.48" stroke="#000" stroke-width="1.5" />
<line x1="47.25" y1="470.62" x2="50.25" y2="470.62" stroke="#000" stroke-width="1.5" />
<line x1="47.25" y1="464.76" x2="50.25" y2="464.76" stroke="#000" stroke-width="1.5" />
<line x1="47.25" y1="453.04" x2="50.25" y2="453.04" stroke="#000" stroke-width="1.5" />
<line x1="47.25" y1="447.18" x2="50.25" y2="447.18" stroke="#000" stroke-width="1.5" />
<line x1="47.25" y1="441.32" x2="50.25" y2="441.32" stroke="#000" stroke-width="1.5" />
<line x1="47.25" y1="435.46" x2="50.25" y2="435.46" stroke="#000" stroke-width="1.5" />
<line x1="47.25" y1="429.60" x2="50.25" y2="429.60" stroke="#000" stroke-width="1.5" />
<line x1="47.25" y1="423.74" x2="50.25" y2="423.74" stroke="#000" stroke-width="1.5" />
<line x1="47.25" y1="417.88" x2="50.25" y2="417.88" stroke="#000" stroke-width="1.5" />
<line x1="47.25" y1="412.02" x2="50.25" y2="412.02" stroke="#000" stroke-width="1.5" />
<line x1="47.25" y1="406.16" x2="50.25" y2="406.16" stroke="#000" stroke-width="1.5" />
<line x1="44.65" y1="400.30" x2="50.25" y2="400.30" stroke="#000" stroke-width="1.7" />
<text x="43.65" y="403.40" font-size="8.9" font-weight="bold" text-anchor="end" >5000</text>
<line x1="44.65" y1="458.90" x2="50.25" y2="458.90" stroke="#000" stroke-width="1.7" />
<text x="43.65" y="462.00" font-size="8.9" font-weight="bold" text-anchor="end" >0</text>
<line x1="44.65" y1="517.50" x2="50.25" y2="517.50" stroke="#000" stroke-width="1.7" />
<text x="43.65" y="520.60" font-size="8.9" font-weight="bold" text-anchor="end" >-5000</text>
<line x1="64.13" y1="517.50" x2="64.13" y2="522.90" stroke="#000" stroke-width="1.7" />
<text x="64.13" y="533.00" font-size="8.9" font-weight="bold" text-anchor="middle" >200</text>
<line x1="119.63" y1="517.50" x2="119.63" y2="522.90" stroke="#000" stroke-width="1.7" />
<text x="119.63" y="533.00" font-size="8.9" font-weight="bold" text-anchor="middle" >220</text>
<line x1="175.14" y1="517.50" x2="175.14" y2="522.90" stroke="#000" stroke-width="1.7" />
<text x="175.14" y="533.00" font-size="8.9" font-weight="bold" text-anchor="middle" >240</text>
<line x1="230.65" y1="517.50" x2="230.65" y2="522.90" stroke="#000" stroke-width="1.7" />
<text x="230.65" y="533.00" font-size="8.9" font-weight="bold" text-anchor="middle" >260</text>
<text x="140.60" y="545.90" font-size="10.2" font-weight="bold" text-anchor="middle" >nm</text>
<line x1="54.25" y1="458.90" x2="230.65" y2="458.90" stroke="#000" stroke-width="1.1" stroke-dasharray="1.3 2.2"/>
<text transform="translate(14.7,457.20) rotate(-90)" font-size="9.75" font-weight="bold" text-anchor="middle">[Φ]<tspan font-size="7.2" dy="1.6">MRV</tspan><tspan dy="-1.6"> (deg . cm </tspan><tspan font-size="7.2" dy="-3.6">2</tspan><tspan dy="3.6">/dmol)</tspan></text>
<path d="M50.25,414.84 L51.64,408.95 L53.03,417.49 L54.41,432.74 L55.80,439.18 L57.19,444.02 L58.58,446.27 L59.96,450.42 L61.35,459.89 L62.74,462.33 L64.13,464.61 L65.51,468.68 L66.90,471.35 L68.29,473.41 L69.68,476.75 L71.07,477.43 L72.45,478.90 L73.84,478.39 L75.23,480.52 L76.62,482.60 L78.00,482.93 L79.39,484.70 L80.78,485.52 L82.17,486.13 L83.55,485.68 L84.94,484.43 L86.33,483.87 L87.72,483.57 L89.11,484.24 L90.49,482.72 L91.88,481.89 L93.27,480.43 L94.66,479.82 L96.04,478.47 L97.43,478.61 L98.82,478.19 L100.21,477.24 L101.59,478.34 L102.98,478.06 L104.37,477.81 L105.76,475.01 L107.15,475.34 L108.53,474.58 L109.92,474.07 L111.31,474.55 L112.70,475.92 L114.08,474.01 L115.47,474.18 L116.86,472.99 L118.25,474.15 L119.63,473.75 L121.02,471.67 L122.41,470.17 L123.80,471.89 L125.19,472.70 L126.57,471.68 L127.96,470.17 L129.35,469.74 L130.74,469.24 L132.12,470.11 L133.51,468.87 L134.90,467.52 L136.29,468.17 L137.67,469.38 L139.06,469.23 L140.45,467.48 L141.84,468.86 L143.23,467.84 L144.61,468.02 L146.00,467.11 L147.39,466.58 L148.78,465.88 L150.16,463.86 L151.55,463.68 L152.94,462.52 L154.33,463.20 L155.71,463.77 L157.10,463.07 L158.49,465.74 L159.88,464.19 L161.27,462.89 L162.65,463.35 L164.04,461.70 L165.43,461.59 L166.82,463.21 L168.20,461.65 L169.59,461.34 L170.98,460.50 L172.37,459.72 L173.75,457.80 L175.14,457.79 L176.53,457.82 L177.92,457.33 L179.31,459.16 L180.69,457.03 L182.08,458.07 L183.47,457.04 L184.86,457.93 L186.24,458.18 L187.63,457.65 L189.02,455.00 L190.41,454.78 L191.79,455.92 L193.18,456.20 L194.57,457.19 L195.96,456.59 L197.35,456.76 L198.73,455.54 L200.12,456.91 L201.51,456.61 L202.90,456.93 L204.28,457.07 L205.67,455.84 L207.06,455.80 L208.45,455.39 L209.83,454.63 L211.22,454.31 L212.61,456.71 L214.00,456.19 L215.39,458.26 L216.77,457.77 L218.16,455.59 L219.55,456.40 L220.94,456.98 L222.32,456.73 L223.71,456.73 L225.10,456.69 L226.49,457.43 L227.87,455.98 L229.26,455.35 L230.65,456.07" fill="none" stroke="#3cae2e" stroke-width="1.9" stroke-linejoin="round" stroke-linecap="round"/>
<path d="M50.25,441.46 L51.64,440.96 L53.03,443.18 L54.41,442.79 L55.80,446.51 L57.19,449.93 L58.58,451.27 L59.96,455.56 L61.35,459.01 L62.74,460.31 L64.13,461.42 L65.51,463.97 L66.90,465.55 L68.29,468.89 L69.68,471.01 L71.07,473.10 L72.45,476.01 L73.84,478.64 L75.23,480.56 L76.62,480.52 L78.00,480.91 L79.39,481.74 L80.78,482.29 L82.17,484.17 L83.55,483.84 L84.94,483.49 L86.33,482.92 L87.72,483.83 L89.11,483.79 L90.49,485.29 L91.88,484.52 L93.27,485.69 L94.66,485.42 L96.04,482.48 L97.43,483.97 L98.82,481.61 L100.21,480.59 L101.59,480.46 L102.98,479.43 L104.37,478.60 L105.76,477.43 L107.15,477.86 L108.53,478.26 L109.92,478.43 L111.31,478.79 L112.70,477.93 L114.08,478.07 L115.47,476.18 L116.86,477.94 L118.25,478.00 L119.63,477.71 L121.02,478.54 L122.41,474.87 L123.80,476.99 L125.19,475.89 L126.57,475.37 L127.96,472.76 L129.35,474.80 L130.74,472.60 L132.12,472.97 L133.51,472.40 L134.90,472.38 L136.29,470.86 L137.67,471.58 L139.06,470.71 L140.45,469.60 L141.84,467.29 L143.23,470.04 L144.61,467.43 L146.00,466.36 L147.39,466.99 L148.78,466.34 L150.16,466.54 L151.55,464.34 L152.94,464.35 L154.33,464.57 L155.71,464.50 L157.10,464.22 L158.49,463.83 L159.88,464.10 L161.27,461.11 L162.65,463.20 L164.04,465.83 L165.43,463.59 L166.82,462.16 L168.20,460.65 L169.59,460.18 L170.98,459.65 L172.37,458.93 L173.75,457.80 L175.14,458.50 L176.53,458.72 L177.92,456.43 L179.31,456.49 L180.69,457.93 L182.08,455.34 L183.47,455.36 L184.86,456.63 L186.24,457.82 L187.63,456.92 L189.02,457.48 L190.41,458.04 L191.79,458.56 L193.18,458.03 L194.57,456.10 L195.96,456.55 L197.35,457.77 L198.73,456.31 L200.12,456.07 L201.51,455.14 L202.90,454.24 L204.28,455.20 L205.67,455.82 L207.06,456.12 L208.45,457.44 L209.83,456.43 L211.22,455.23 L212.61,455.84 L214.00,456.64 L215.39,457.17 L216.77,458.04 L218.16,458.61 L219.55,458.42 L220.94,458.70 L222.32,458.42 L223.71,459.37 L225.10,457.94 L226.49,457.43 L227.87,458.31 L229.26,459.91 L230.65,458.48" fill="none" stroke="#2b4ba3" stroke-width="1.9" stroke-linejoin="round" stroke-linecap="round"/>
<path d="M50.25,445.28 L51.64,449.03 L53.03,450.73 L54.41,452.78 L55.80,454.24 L57.19,458.49 L58.58,460.53 L59.96,462.66 L61.35,464.98 L62.74,466.77 L64.13,468.08 L65.51,469.30 L66.90,471.40 L68.29,471.67 L69.68,473.53 L71.07,478.17 L72.45,476.49 L73.84,477.99 L75.23,479.68 L76.62,479.93 L78.00,480.63 L79.39,481.73 L80.78,483.86 L82.17,484.39 L83.55,485.82 L84.94,483.23 L86.33,484.75 L87.72,484.34 L89.11,483.53 L90.49,482.68 L91.88,482.54 L93.27,481.46 L94.66,485.27 L96.04,483.37 L97.43,482.19 L98.82,481.65 L100.21,478.97 L101.59,480.09 L102.98,479.52 L104.37,481.03 L105.76,479.03 L107.15,479.78 L108.53,479.88 L109.92,475.60 L111.31,474.98 L112.70,475.32 L114.08,475.19 L115.47,476.81 L116.86,477.15 L118.25,475.56 L119.63,477.40 L121.02,475.59 L122.41,476.73 L123.80,475.14 L125.19,475.53 L126.57,472.38 L127.96,471.35 L129.35,472.38 L130.74,474.24 L132.12,473.82 L133.51,472.58 L134.90,472.76 L136.29,471.23 L137.67,469.40 L139.06,469.38 L140.45,469.61 L141.84,468.17 L143.23,468.41 L144.61,467.04 L146.00,467.38 L147.39,465.16 L148.78,465.86 L150.16,466.92 L151.55,465.98 L152.94,466.08 L154.33,466.26 L155.71,465.23 L157.10,463.46 L158.49,465.56 L159.88,464.08 L161.27,463.15 L162.65,462.39 L164.04,460.67 L165.43,461.88 L166.82,460.08 L168.20,459.86 L169.59,459.13 L170.98,458.86 L172.37,458.92 L173.75,459.07 L175.14,458.00 L176.53,455.40 L177.92,455.06 L179.31,455.00 L180.69,455.21 L182.08,456.39 L183.47,455.72 L184.86,453.60 L186.24,456.13 L187.63,455.04 L189.02,454.16 L190.41,454.55 L191.79,454.16 L193.18,453.24 L194.57,451.77 L195.96,451.97 L197.35,451.65 L198.73,452.94 L200.12,453.06 L201.51,453.84 L202.90,454.10 L204.28,455.17 L205.67,454.56 L207.06,453.40 L208.45,454.62 L209.83,454.87 L211.22,454.64 L212.61,455.24 L214.00,454.58 L215.39,455.03 L216.77,456.93 L218.16,457.87 L219.55,456.35 L220.94,455.59 L222.32,454.62 L223.71,455.04 L225.10,455.31 L226.49,457.45 L227.87,455.27 L229.26,456.66 L230.65,455.20" fill="none" stroke="#1a9fc2" stroke-width="1.9" stroke-linejoin="round" stroke-linecap="round"/>
<path d="M50.25,440.69 L51.64,442.62 L53.03,445.68 L54.41,447.61 L55.80,449.40 L57.19,452.99 L58.58,455.39 L59.96,460.75 L61.35,464.35 L62.74,468.69 L64.13,472.75 L65.51,475.98 L66.90,477.21 L68.29,478.50 L69.68,479.93 L71.07,479.82 L72.45,481.93 L73.84,485.67 L75.23,486.44 L76.62,488.19 L78.00,489.55 L79.39,488.74 L80.78,489.85 L82.17,492.41 L83.55,491.79 L84.94,492.28 L86.33,492.71 L87.72,492.26 L89.11,491.42 L90.49,490.05 L91.88,489.40 L93.27,488.24 L94.66,485.54 L96.04,486.40 L97.43,486.58 L98.82,485.83 L100.21,483.78 L101.59,484.15 L102.98,481.93 L104.37,483.32 L105.76,483.70 L107.15,482.78 L108.53,482.91 L109.92,482.57 L111.31,481.16 L112.70,479.94 L114.08,479.72 L115.47,479.80 L116.86,478.06 L118.25,477.86 L119.63,478.22 L121.02,476.79 L122.41,477.95 L123.80,477.34 L125.19,476.34 L126.57,476.29 L127.96,476.64 L129.35,475.74 L130.74,475.92 L132.12,475.87 L133.51,476.08 L134.90,473.67 L136.29,474.00 L137.67,472.29 L139.06,471.93 L140.45,472.17 L141.84,471.18 L143.23,470.84 L144.61,470.58 L146.00,471.69 L147.39,470.64 L148.78,469.01 L150.16,468.30 L151.55,467.18 L152.94,465.84 L154.33,465.96 L155.71,464.24 L157.10,466.55 L158.49,466.33 L159.88,468.27 L161.27,465.79 L162.65,464.94 L164.04,462.67 L165.43,463.25 L166.82,465.01 L168.20,462.47 L169.59,463.47 L170.98,463.73 L172.37,462.73 L173.75,461.24 L175.14,461.40 L176.53,460.66 L177.92,462.16 L179.31,459.25 L180.69,459.29 L182.08,458.98 L183.47,458.21 L184.86,458.05 L186.24,457.79 L187.63,458.63 L189.02,458.18 L190.41,457.47 L191.79,456.44 L193.18,457.01 L194.57,457.08 L195.96,456.84 L197.35,456.45 L198.73,456.57 L200.12,457.06 L201.51,457.56 L202.90,456.17 L204.28,456.35 L205.67,456.86 L207.06,453.77 L208.45,454.73 L209.83,455.37 L211.22,456.49 L212.61,458.35 L214.00,457.31 L215.39,458.04 L216.77,458.38 L218.16,457.67 L219.55,457.12 L220.94,457.50 L222.32,457.87 L223.71,455.94 L225.10,456.34 L226.49,458.09 L227.87,457.23 L229.26,457.29 L230.65,457.38" fill="none" stroke="#ec1c24" stroke-width="1.9" stroke-linejoin="round" stroke-linecap="round"/>
<line x1="257.90" y1="408.20" x2="270.60" y2="408.20" stroke="#ec1c24" stroke-width="1.6" />
<text x="278.30" y="411.50" font-size="10.0" font-weight="normal" text-anchor="start" >Bt-LC3A-PA</text>
<line x1="257.90" y1="424.10" x2="270.60" y2="424.10" stroke="#2b4ba3" stroke-width="1.6" />
<text x="278.30" y="427.40" font-size="10.0" font-weight="normal" text-anchor="start" >Rho-LC3A</text>
<line x1="257.90" y1="439.80" x2="270.60" y2="439.80" stroke="#1a9fc2" stroke-width="1.6" />
<text x="278.30" y="443.10" font-size="10.0" font-weight="normal" text-anchor="start" >Rho-LC3B</text>
<line x1="257.90" y1="455.60" x2="270.60" y2="455.60" stroke="#3cae2e" stroke-width="1.6" />
<text x="278.30" y="458.90" font-size="10.0" font-weight="normal" text-anchor="start" >LC3B expressed</text>
</svg>
</body></html>
